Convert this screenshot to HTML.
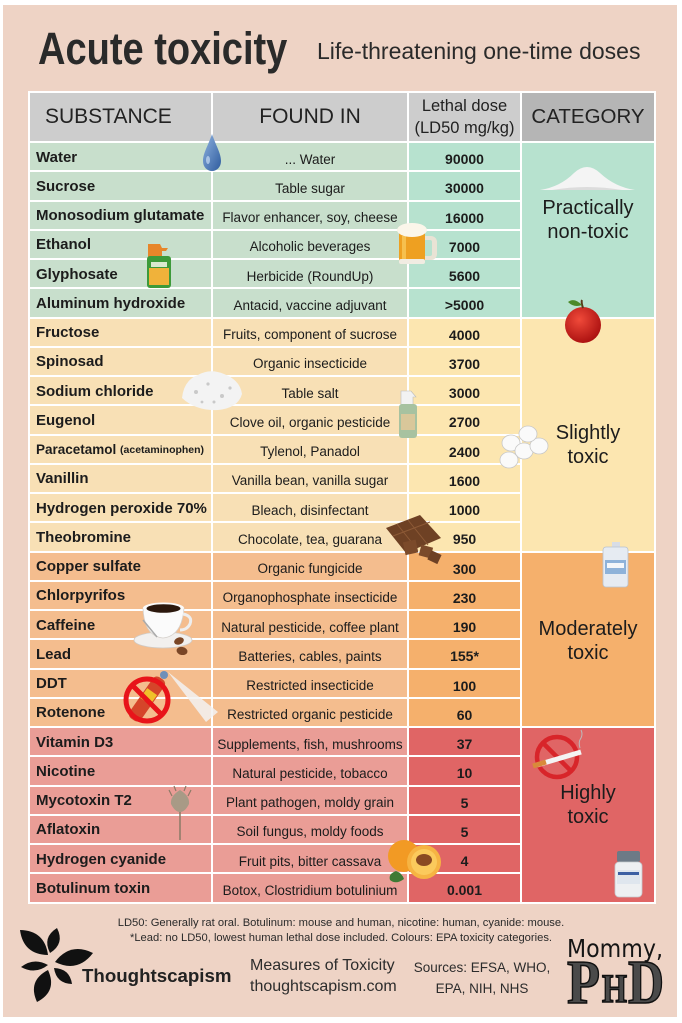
<!DOCTYPE html>
<html><head><meta charset="utf-8">
<style>
*{margin:0;padding:0;box-sizing:border-box}
html,body{width:682px;height:1023px;background:#fff;overflow:hidden}
body{position:relative;font-family:"Liberation Sans",Arial,sans-serif;color:#1c1c1c}
#bg{position:absolute;left:3px;top:5px;width:674px;height:1012px;background:#eed3c5}
.title{position:absolute;left:38px;top:23px;font-size:45px;line-height:52px;font-weight:bold;color:#2a2a2a;transform:scaleX(0.845);transform-origin:0 0;white-space:nowrap}
.sub{position:absolute;left:317px;top:37px;font-size:23px;line-height:28px;color:#2a2a2a;white-space:nowrap}
#tbl{position:absolute;left:28px;top:91px;width:628px;padding:2px;background:#fff;display:grid;grid-template-columns:181px 194px 111px 132px;grid-template-rows:48px repeat(26,27.25px);gap:2px}
#tbl>div{display:flex;align-items:center;white-space:nowrap;overflow:visible}
.h{background:#cdcdcd;justify-content:center;font-size:21px;color:#222;font-weight:normal}
.hc{background:#b5b5b5;justify-content:center;font-size:20.5px;color:#222}
.hs{background:#cdcdcd;justify-content:flex-start;padding-left:15px;font-size:21px;color:#222}
.hl{background:#cdcdcd;flex-direction:column;justify-content:center;font-size:16.5px;line-height:22px;color:#222}
.s{font-weight:bold;font-size:15px;padding-left:6px;padding-top:1px}
.f{justify-content:center;font-size:13.5px;padding-top:5px}
.l{justify-content:center;font-weight:bold;font-size:14px;padding-top:5px}
.g{background:#c8dfcc}.G{background:#b7e2cf}
.y{background:#f8e0b5}.Y{background:#fce6b0}
.o{background:#f4bd8e}.O{background:#f5b06c}
.r{background:#ea9d96}.R{background:#e06565}
.cat{position:absolute;left:522px;width:132px;text-align:center;font-size:20px;line-height:24px;color:#1c1c1c}
.note{position:absolute;left:0;width:682px;text-align:center;font-size:11.2px;line-height:14px;color:#2a2a2a;white-space:nowrap}
.ft{position:absolute;white-space:nowrap;color:#2c2c2c}
svg{position:absolute;left:0;top:0}
</style></head><body>
<div id="bg"></div>
<div class="title">Acute toxicity</div>
<div class="sub">Life-threatening one-time doses</div>

<div id="tbl">
<div class="hs">SUBSTANCE</div><div class="h">FOUND IN</div><div class="hl"><span>Lethal dose</span><span>(LD50 mg/kg)</span></div><div class="hc">CATEGORY</div>
<div class="G" style="grid-column:4;grid-row:2 / span 6"></div>
<div class="Y" style="grid-column:4;grid-row:8 / span 8"></div>
<div class="O" style="grid-column:4;grid-row:16 / span 6"></div>
<div class="R" style="grid-column:4;grid-row:22 / span 6"></div>

<div class="s g">Water</div><div class="f g">... Water</div><div class="l G">90000</div>
<div class="s g">Sucrose</div><div class="f g">Table sugar</div><div class="l G">30000</div>
<div class="s g">Monosodium glutamate</div><div class="f g">Flavor enhancer, soy, cheese</div><div class="l G">16000</div>
<div class="s g">Ethanol</div><div class="f g">Alcoholic beverages</div><div class="l G">7000</div>
<div class="s g">Glyphosate</div><div class="f g">Herbicide (RoundUp)</div><div class="l G">5600</div>
<div class="s g">Aluminum hydroxide</div><div class="f g">Antacid, vaccine adjuvant</div><div class="l G">&gt;5000</div>

<div class="s y">Fructose</div><div class="f y">Fruits, component of sucrose</div><div class="l Y">4000</div>
<div class="s y">Spinosad</div><div class="f y">Organic insecticide</div><div class="l Y">3700</div>
<div class="s y">Sodium chloride</div><div class="f y">Table salt</div><div class="l Y">3000</div>
<div class="s y">Eugenol</div><div class="f y">Clove oil, organic pesticide</div><div class="l Y">2700</div>
<div class="s y" style="font-size:13.5px">Paracetamol&nbsp;<span style="font-size:10.5px">(acetaminophen)</span></div><div class="f y">Tylenol, Panadol</div><div class="l Y">2400</div>
<div class="s y">Vanillin</div><div class="f y">Vanilla bean, vanilla sugar</div><div class="l Y">1600</div>
<div class="s y">Hydrogen peroxide 70%</div><div class="f y">Bleach, disinfectant</div><div class="l Y">1000</div>
<div class="s y">Theobromine</div><div class="f y">Chocolate, tea, guarana</div><div class="l Y">950</div>

<div class="s o">Copper sulfate</div><div class="f o">Organic fungicide</div><div class="l O">300</div>
<div class="s o">Chlorpyrifos</div><div class="f o">Organophosphate insecticide</div><div class="l O">230</div>
<div class="s o">Caffeine</div><div class="f o">Natural pesticide, coffee plant</div><div class="l O">190</div>
<div class="s o">Lead</div><div class="f o">Batteries, cables, paints</div><div class="l O">155*</div>
<div class="s o">DDT</div><div class="f o">Restricted insecticide</div><div class="l O">100</div>
<div class="s o">Rotenone</div><div class="f o">Restricted organic pesticide</div><div class="l O">60</div>

<div class="s r">Vitamin D3</div><div class="f r">Supplements, fish, mushrooms</div><div class="l R">37</div>
<div class="s r">Nicotine</div><div class="f r">Natural pesticide, tobacco</div><div class="l R">10</div>
<div class="s r">Mycotoxin T2</div><div class="f r">Plant pathogen, moldy grain</div><div class="l R">5</div>
<div class="s r">Aflatoxin</div><div class="f r">Soil fungus, moldy foods</div><div class="l R">5</div>
<div class="s r">Hydrogen cyanide</div><div class="f r">Fruit pits, bitter cassava</div><div class="l R">4</div>
<div class="s r">Botulinum toxin</div><div class="f r">Botox, Clostridium botulinium</div><div class="l R">0.001</div>
</div>

<div class="cat" style="top:196px">Practically<br>non-toxic</div>
<div class="cat" style="top:421px">Slightly<br>toxic</div>
<div class="cat" style="top:617px">Moderately<br>toxic</div>
<div class="cat" style="top:781px">Highly<br>toxic</div>

<svg width="682" height="1023" viewBox="0 0 682 1023">
<defs>
<radialGradient id="ap" cx="0.4" cy="0.35" r="0.7"><stop offset="0" stop-color="#f04a3a"/><stop offset="1" stop-color="#a80e0e"/></radialGradient>
<linearGradient id="dr" x1="0" y1="0" x2="1" y2="1"><stop offset="0" stop-color="#8fb3e0"/><stop offset="1" stop-color="#2f5c9e"/></linearGradient>
</defs>
<!-- water drop -->
<path d="M212,134 C208,146 203,153 203,161 C203,167 207,171 212,171 C217,171 221,167 221,161 C221,153 216,146 212,134Z" fill="url(#dr)"/>
<ellipse cx="208" cy="160" rx="2" ry="4" fill="#c8dcf4" opacity="0.7"/>
<!-- sugar pile -->
<path d="M540,190 Q560,187 574,173 Q587,161 600,173 Q615,187 635,190Z" fill="#f4f4f4"/>
<path d="M552,190 Q587,184 622,190Z" fill="#dcdcdc"/>
<!-- beer mug -->
<path d="M424,236 h7 a6,6 0 0 1 6,6 v12 a6,6 0 0 1 -6,6 h-7 v-4 h6 a2,2 0 0 0 2,-2 v-12 a2,2 0 0 0 -2,-2 h-6z" fill="#e9e3d5"/>
<rect x="399" y="230" width="26" height="33" rx="2" fill="#eea021"/>
<rect x="402" y="236" width="4" height="24" fill="#f7c85a" opacity="0.8"/>
<rect x="399" y="259" width="26" height="5" rx="2" fill="#f1ece2"/>
<ellipse cx="412" cy="230" rx="15" ry="7" fill="#fbf6ea"/>
<!-- roundup bottle -->
<path d="M148,244 h12 l2,4 h6 l-2,3 h-4 v6 h-14z" fill="#e7862a"/>
<rect x="147" y="256" width="24" height="32" rx="3" fill="#3d9a3a"/>
<rect x="149" y="268" width="20" height="17" fill="#f0b23a"/>
<rect x="151" y="262" width="16" height="5" fill="#d9e9d0"/>
<!-- apple -->
<ellipse cx="583" cy="325" rx="18" ry="18" fill="url(#ap)"/>
<path d="M583,308 q-2,-6 -1,-8" stroke="#5a3a1a" stroke-width="2" fill="none"/>
<path d="M582,305 q-8,-8 -14,-3 q6,6 14,3z" fill="#4c8a2a"/>
<!-- salt pile -->
<path d="M182,398 Q184,380 198,375 Q210,368 224,374 Q240,380 242,394 Q238,408 218,410 Q196,411 182,398Z" fill="#f3f3f3"/>
<g fill="#c9c9c9"><circle cx="196" cy="392" r="2"/><circle cx="208" cy="384" r="1.6"/><circle cx="222" cy="396" r="2"/><circle cx="214" cy="402" r="1.5"/><circle cx="230" cy="388" r="1.6"/><circle cx="202" cy="402" r="1.4"/></g>
<!-- spray bottle -->
<path d="M401,391 h10 l5,6 h-3 v8 h-12z" fill="#f2f2f2" stroke="#bbb" stroke-width="0.6"/>
<rect x="399" y="404" width="18" height="34" rx="3" fill="#a7c2a0"/>
<rect x="401" y="414" width="14" height="16" fill="#d9c79a"/>
<!-- pills -->
<g fill="#fafafa" stroke="#c8c8c8" stroke-width="0.8">
<ellipse cx="509" cy="460" rx="9" ry="8"/>
<ellipse cx="511" cy="443" rx="9" ry="8"/>
<ellipse cx="524" cy="451" rx="9" ry="8"/>
<ellipse cx="539" cy="446" rx="9" ry="8"/>
<ellipse cx="528" cy="434" rx="9" ry="8"/>
</g>
<!-- chocolate -->
<polygon points="386,528 420,515 441,538 406,553" fill="#6e4124"/>
<g stroke="#8d5a36" stroke-width="1"><line x1="397" y1="524" x2="417" y2="549"/><line x1="408" y1="520" x2="428" y2="545"/><line x1="393" y1="536" x2="430" y2="522"/></g>
<rect x="404" y="541" width="13" height="13" fill="#7b4a2a" transform="rotate(-12 410 547)"/>
<rect x="420" y="546" width="12" height="11" fill="#7b4a2a" transform="rotate(15 426 551)"/>
<rect x="429" y="552" width="11" height="10" fill="#6e4124" transform="rotate(25 434 557)"/>
<!-- jerrycan -->
<rect x="612" y="542" width="8" height="6" fill="#d8dde6"/>
<rect x="603" y="547" width="25" height="40" rx="3" fill="#e6ebf2" stroke="#b8c2cf" stroke-width="0.8"/>
<rect x="605" y="560" width="21" height="14" fill="#8eb2d9"/>
<rect x="607" y="563" width="17" height="5" fill="#f4f6f9"/>
<!-- coffee cup -->
<ellipse cx="163" cy="640" rx="29" ry="8" fill="#f2f0ee" stroke="#cfcac5" stroke-width="0.8"/>
<path d="M143,608 Q144,636 163,638 Q182,636 184,608z" fill="#fbfbfb" stroke="#d5d0cb" stroke-width="0.8"/>
<path d="M183,614 q10,2 7,10 q-3,6 -10,6" stroke="#eeeeee" stroke-width="3" fill="none"/>
<ellipse cx="163.5" cy="608" rx="20.5" ry="5.5" fill="#fbfbfb"/>
<ellipse cx="163.5" cy="608.5" rx="17" ry="4.3" fill="#2b180d"/>
<line x1="143" y1="620" x2="157" y2="637" stroke="#aaa" stroke-width="1.5"/>
<ellipse cx="179" cy="641" rx="5" ry="3.5" fill="#7a4626" transform="rotate(-20 179 641)"/>
<ellipse cx="182" cy="651" rx="5.5" ry="4" fill="#7a4626" transform="rotate(10 182 651)"/>
<!-- DDT can with no sign + spray beam -->
<polygon points="168,672 218,712 206,722" fill="#f2f2f2" opacity="0.85"/>
<rect x="140" y="674" width="14" height="50" rx="5" fill="#d5452a" transform="rotate(35 147 699)"/>
<rect x="141" y="690" width="12" height="12" fill="#f0c02a" transform="rotate(35 147 699)"/>
<circle cx="164" cy="675" r="4" fill="#6e8fb8"/>
<circle cx="147" cy="700" r="21" fill="none" stroke="#e8141a" stroke-width="5"/>
<line x1="132" y1="685" x2="162" y2="715" stroke="#e8141a" stroke-width="5"/>
<!-- no smoking -->
<circle cx="557" cy="757" r="20" fill="none" stroke="#d8252a" stroke-width="4.5"/>
<line x1="543" y1="743" x2="571" y2="771" stroke="#d8252a" stroke-width="4.5"/>
<line x1="537" y1="765" x2="581" y2="752" stroke="#f4f4f4" stroke-width="5"/>
<line x1="533" y1="766" x2="546" y2="762" stroke="#d98a3a" stroke-width="5"/>
<path d="M580,748 q-2,-6 1,-10 q2,-4 0,-8" stroke="#bbb" stroke-width="1" fill="none"/>
<!-- plant / artichoke -->
<line x1="180" y1="812" x2="180" y2="840" stroke="#8b7a66" stroke-width="1.5"/>
<path d="M180,790 q-10,6 -9,14 q4,8 9,8 q5,0 9,-8 q1,-8 -9,-14z" fill="#a89a86"/>
<path d="M172,796 l-3,-6 M188,796 l3,-6 M176,791 l-2,-5 M184,791 l2,-5" stroke="#8b7a66" stroke-width="1.2"/>
<!-- apricot -->
<path d="M390,880 q-2,-6 6,-9 q6,2 8,8 q-8,6 -14,1z" fill="#3f7a35"/>
<circle cx="404" cy="856" r="16" fill="#f29a24"/>
<circle cx="424" cy="862" r="17" fill="#f6b443"/>
<circle cx="424" cy="862" r="13" fill="#fbca5c"/>
<ellipse cx="424" cy="860" rx="8" ry="6" fill="#8a4a22"/>
<!-- vial -->
<rect x="617" y="851" width="23" height="11" rx="2" fill="#6d7a86"/>
<rect x="615" y="862" width="27" height="35" rx="4" fill="#eef0f2" stroke="#c5c9cd" stroke-width="0.8"/>
<rect x="617" y="870" width="23" height="14" fill="#dfe6ee"/>
<rect x="618" y="872" width="21" height="3" fill="#3c5fa3"/>

<!-- Thoughtscapism flower -->
<g fill="#111">
<path d="M48,955 Q44.7,930.5 20,930 Q23.3,954.5 48,955Z"/>
<path d="M50,953 Q65,943.7 57,928 Q42,937.3 50,953Z"/>
<path d="M55,962 Q77.7,973.1 93,953 Q70.3,941.9 55,962Z"/>
<path d="M48,965 Q35.2,975 21,967 Q33.8,957 48,965Z"/>
<path d="M48,970 Q57.7,991.2 37,1002 Q27.3,980.8 48,970Z"/>
<path d="M54,968 Q69.7,968.5 72,984 Q56.3,983.5 54,968Z"/>
</g>
<!-- Mommy PhD -->
<text x="567" y="957" font-family="'DejaVu Sans','Liberation Sans',sans-serif" font-size="25" fill="#151515" textLength="96" lengthAdjust="spacingAndGlyphs">Mommy,</text>
<g font-family="'Liberation Serif',serif" font-weight="bold" fill="#4a4a4a" stroke="#111" stroke-width="1.6">
<text x="567" y="1003" font-size="62" textLength="33" lengthAdjust="spacingAndGlyphs">P</text>
<text x="602" y="1002" font-size="40" textLength="25" lengthAdjust="spacingAndGlyphs">H</text>
<text x="628" y="1003" font-size="62" textLength="36" lengthAdjust="spacingAndGlyphs">D</text>
</g>
</svg>

<div class="note" style="top:916px">LD50: Generally rat oral. Botulinum: mouse and human, nicotine: human, cyanide: mouse.</div>
<div class="note" style="top:931px">*Lead: no LD50, lowest human lethal dose included. Colours: EPA toxicity categories.</div>

<div class="ft" style="left:82px;top:965px;font-size:18.7px;line-height:22px;font-weight:bold;color:#222">Thoughtscapism</div>
<div class="ft" style="left:250px;top:956px;font-size:16px;line-height:20px">Measures of Toxicity</div>
<div class="ft" style="left:250px;top:977px;font-size:16px;line-height:20px">thoughtscapism.com</div>
<div class="ft" style="left:412px;top:957px;width:140px;text-align:center;font-size:13.5px;line-height:21px">Sources: EFSA, WHO,<br>EPA, NIH, NHS</div>
</body></html>
